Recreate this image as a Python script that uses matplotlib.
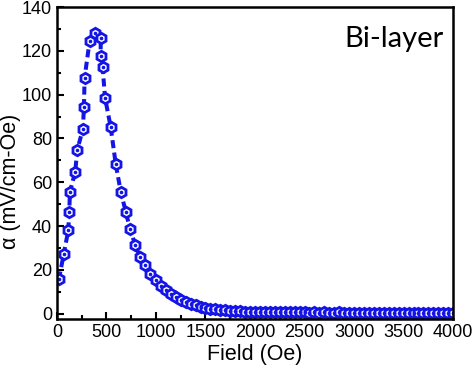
import numpy as np
import matplotlib.pyplot as plt
from matplotlib.ticker import MultipleLocator

# odczytane punkty: pole [Oe] i alfa [mV/cm-Oe]
field_peak = [20, 70, 115, 125, 132, 185, 206, 263, 273, 280, 331, 388,
              442, 442, 462, 486, 543, 594, 645, 695, 739, 790, 840, 888,
              942, 999]
alpha_peak = [15.6, 27.4, 38.0, 46.5, 55.6, 64.8, 74.8, 84.4, 94.5, 107.8,
              124.6, 128.3, 126.0, 117.7, 112.4, 98.6, 85.2, 68.3, 55.6,
              46.6, 38.5, 31.5, 25.8, 22.0, 18.3, 15.3]

field_tail = [1050, 1100, 1150, 1200, 1250, 1300, 1350, 1400, 1450, 1500,
              1550, 1600, 1650, 1700, 1750, 1800, 1850, 1900, 1950, 2000,
              2050, 2100, 2150, 2200, 2250, 2300, 2350, 2400, 2450, 2500,
              2550, 2600, 2650, 2700, 2750, 2800, 2850, 2900, 2950, 3000,
              3050, 3100, 3150, 3200, 3250, 3300, 3350, 3400, 3450, 3500,
              3550, 3600, 3650, 3700, 3750, 3800, 3850, 3900, 3950, 4000]
alpha_tail = [12.6, 10.6, 9.0, 7.7, 6.3, 5.3, 4.5, 3.8, 3.2, 2.7,
              2.3, 2.0, 1.7, 1.5, 1.3, 1.1, 1.0, 0.9, 0.8, 0.75,
              0.7, 0.65, 0.6, 0.6, 0.55, 0.55, 0.5, 0.5, 0.5, 0.5,
              0.45, 0.5, 0.45, 0.5, 0.45, 0.45, 0.5, 0.45, 0.45, 0.45,
              0.4, 0.45, 0.4, 0.45, 0.4, 0.4, 0.45, 0.4, 0.4, 0.4,
              0.4, 0.4, 0.35, 0.4, 0.4, 0.35, 0.4, 0.35, 0.4, 0.35]

field = field_peak + field_tail
alpha = alpha_peak + alpha_tail

niebieski = '#1414e6'

plt.rcParams['font.family'] = ['Liberation Sans', 'DejaVu Sans']

fig = plt.figure(figsize=(4.74, 3.71), dpi=100)
ax = fig.add_axes([0.12, 0.14, 0.836, 0.841])

ax.plot(field, alpha, color=niebieski, lw=2.9, ls=(0, (2.0, 1.1)),
        marker='h', ms=7.5, mfc='white', mec=niebieski, mew=2.0)
ax.plot(field, alpha, ls='none', marker='o', ms=1.6, color=niebieski)

ax.set_xlim(0, 4000)
ax.set_ylim(-2.5, 140)
ax.xaxis.set_major_locator(MultipleLocator(500))
ax.xaxis.set_minor_locator(MultipleLocator(250))
ax.yaxis.set_major_locator(MultipleLocator(20))
ax.yaxis.set_minor_locator(MultipleLocator(10))
ax.tick_params(which='both', direction='in', width=1.5, labelsize=13)
ax.tick_params(which='major', length=5)
ax.tick_params(which='minor', length=3)
for s in ax.spines.values():
    s.set_linewidth(1.8)

ax.set_xlabel('Field (Oe)', fontsize=15.5, labelpad=2)
ax.set_ylabel('α (mV/cm-Oe)', fontsize=15.5)
ax.yaxis.set_label_coords(-0.091, 0.44)
ax.text(0.975, 0.94, 'Bi-layer', transform=ax.transAxes, ha='right', va='top',
        fontsize=21, family=['Lato', 'DejaVu Sans'])

fig.savefig('out.png', dpi=100)
